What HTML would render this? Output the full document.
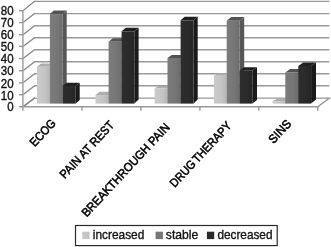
<!DOCTYPE html>
<html><head><meta charset="utf-8"><title>chart</title>
<style>html,body{margin:0;padding:0;background:#fff}svg text{font-family:"Liberation Sans",sans-serif}</style></head>
<body>
<svg width="331" height="247" viewBox="0 0 331 247" style="display:block">
<defs><linearGradient id="gi" x1="0" x2="1" y1="0" y2="0"><stop offset="0" stop-color="#cbcbcb"/><stop offset="0.6" stop-color="#c4c4c4"/><stop offset="1" stop-color="#b6b6b6"/></linearGradient><linearGradient id="gs" x1="0" x2="1" y1="0" y2="0"><stop offset="0" stop-color="#7c7c7c"/><stop offset="0.6" stop-color="#767676"/><stop offset="1" stop-color="#6c6c6c"/></linearGradient><linearGradient id="gd" x1="0" x2="1" y1="0" y2="0"><stop offset="0" stop-color="#2d2d2d"/><stop offset="0.6" stop-color="#2a2a2a"/><stop offset="1" stop-color="#252525"/></linearGradient></defs>
<rect width="331" height="247" fill="#fff"/>
<line x1="34.5" y1="85.8" x2="329.3" y2="85.8" stroke="#999" stroke-width="1.4"/>
<line x1="23.0" y1="94.7" x2="34.9" y2="85.5" stroke="#868686" stroke-width="1.3"/>
<line x1="34.5" y1="73.7" x2="329.3" y2="73.7" stroke="#999" stroke-width="1.4"/>
<line x1="23.0" y1="82.8" x2="34.9" y2="73.4" stroke="#868686" stroke-width="1.3"/>
<line x1="34.5" y1="61.8" x2="329.3" y2="61.8" stroke="#999" stroke-width="1.4"/>
<line x1="23.0" y1="70.7" x2="34.9" y2="61.5" stroke="#868686" stroke-width="1.3"/>
<line x1="34.5" y1="49.7" x2="329.3" y2="49.7" stroke="#999" stroke-width="1.4"/>
<line x1="23.0" y1="58.5" x2="34.9" y2="49.4" stroke="#868686" stroke-width="1.3"/>
<line x1="34.5" y1="37.7" x2="329.3" y2="37.7" stroke="#999" stroke-width="1.4"/>
<line x1="23.0" y1="46.4" x2="34.9" y2="37.4" stroke="#868686" stroke-width="1.3"/>
<line x1="34.5" y1="25.8" x2="329.3" y2="25.8" stroke="#999" stroke-width="1.4"/>
<line x1="23.0" y1="34.7" x2="34.9" y2="25.5" stroke="#868686" stroke-width="1.3"/>
<line x1="34.5" y1="13.6" x2="329.3" y2="13.6" stroke="#999" stroke-width="1.4"/>
<line x1="23.0" y1="22.6" x2="34.9" y2="13.3" stroke="#868686" stroke-width="1.3"/>
<line x1="34.5" y1="1.4" x2="329.3" y2="1.4" stroke="#999" stroke-width="1.4"/>
<line x1="23.0" y1="10.7" x2="34.9" y2="1.1" stroke="#868686" stroke-width="1.3"/>
<polygon points="23.0,106.7 34.5,98.1 329.3,98.1 317.8,106.7" fill="#fff" stroke="#999" stroke-width="1.4"/>
<line x1="23.0" y1="106.7" x2="34.9" y2="97.8" stroke="#868686" stroke-width="1.3"/>
<line x1="22.9" y1="10.2" x2="22.9" y2="110.8" stroke="#a6a6a6" stroke-width="1.6"/>
<line x1="19" y1="106.7" x2="23.0" y2="106.7" stroke="#999" stroke-width="1.4"/>
<line x1="19" y1="94.7" x2="23.0" y2="94.7" stroke="#999" stroke-width="1.4"/>
<line x1="19" y1="82.8" x2="23.0" y2="82.8" stroke="#999" stroke-width="1.4"/>
<line x1="19" y1="70.7" x2="23.0" y2="70.7" stroke="#999" stroke-width="1.4"/>
<line x1="19" y1="58.5" x2="23.0" y2="58.5" stroke="#999" stroke-width="1.4"/>
<line x1="19" y1="46.4" x2="23.0" y2="46.4" stroke="#999" stroke-width="1.4"/>
<line x1="19" y1="34.7" x2="23.0" y2="34.7" stroke="#999" stroke-width="1.4"/>
<line x1="19" y1="22.6" x2="23.0" y2="22.6" stroke="#999" stroke-width="1.4"/>
<line x1="19" y1="10.7" x2="23.0" y2="10.7" stroke="#999" stroke-width="1.4"/>
<line x1="82.0" y1="106.7" x2="82.0" y2="110.8" stroke="#999" stroke-width="1.4"/>
<line x1="140.9" y1="106.7" x2="140.9" y2="110.8" stroke="#999" stroke-width="1.4"/>
<line x1="199.9" y1="106.7" x2="199.9" y2="110.8" stroke="#999" stroke-width="1.4"/>
<line x1="258.8" y1="106.7" x2="258.8" y2="110.8" stroke="#999" stroke-width="1.4"/>
<line x1="317.8" y1="106.7" x2="317.8" y2="110.8" stroke="#999" stroke-width="1.4"/>
<polygon points="49.9,66.7 53.9,63.6 53.9,100.1 49.9,103.6" fill="#9a9a9a"/>
<polygon points="37.0,66.7 41.0,63.6 53.9,63.6 49.9,66.7" fill="#adadad"/>
<rect x="37.0" y="66.7" width="12.9" height="36.9" fill="url(#gi)"/>
<polygon points="62.7,14.1 66.7,10.6 66.7,99.7 62.7,103.6" fill="#575757"/>
<polygon points="49.9,14.1 53.9,10.6 66.7,10.6 62.7,14.1" fill="#535353"/>
<rect x="49.9" y="14.1" width="12.8" height="89.5" fill="url(#gs)"/>
<polygon points="75.7,86.0 79.7,82.7 79.7,99.9 75.7,103.6" fill="#1a1a1a"/>
<polygon points="62.7,86.0 66.7,82.7 79.7,82.7 75.7,86.0" fill="#202020"/>
<rect x="62.7" y="86.0" width="13.0" height="17.6" fill="url(#gd)"/>
<polygon points="108.6,95.0 112.8,91.7 112.8,99.9 108.6,103.6" fill="#9a9a9a"/>
<polygon points="95.5,95.0 99.7,91.7 112.8,91.7 108.6,95.0" fill="#adadad"/>
<rect x="95.5" y="95.0" width="13.1" height="8.6" fill="url(#gi)"/>
<polygon points="121.6,41.7 125.8,38.3 125.8,99.8 121.6,103.6" fill="#575757"/>
<polygon points="108.6,41.7 112.8,38.3 125.8,38.3 121.6,41.7" fill="#535353"/>
<rect x="108.6" y="41.7" width="13.0" height="61.9" fill="url(#gs)"/>
<polygon points="134.4,31.3 138.6,27.7 138.6,99.6 134.4,103.6" fill="#1a1a1a"/>
<polygon points="121.6,31.3 125.8,27.7 138.6,27.7 134.4,31.3" fill="#202020"/>
<rect x="121.6" y="31.3" width="12.8" height="72.3" fill="url(#gd)"/>
<polygon points="167.5,88.5 171.6,85.9 171.6,100.6 167.5,103.6" fill="#9a9a9a"/>
<polygon points="154.6,88.5 158.7,85.9 171.6,85.9 167.5,88.5" fill="#adadad"/>
<rect x="154.6" y="88.5" width="12.9" height="15.1" fill="url(#gi)"/>
<polygon points="180.6,58.0 184.7,55.0 184.7,100.2 180.6,103.6" fill="#575757"/>
<polygon points="167.5,58.0 171.6,55.0 184.7,55.0 180.6,58.0" fill="#535353"/>
<rect x="167.5" y="58.0" width="13.1" height="45.6" fill="url(#gs)"/>
<polygon points="193.6,20.3 197.7,16.7 197.7,99.6 193.6,103.6" fill="#1a1a1a"/>
<polygon points="180.6,20.3 184.7,16.7 197.7,16.7 193.6,20.3" fill="#202020"/>
<rect x="180.6" y="20.3" width="13.0" height="83.3" fill="url(#gd)"/>
<polygon points="226.7,75.8 231.3,73.2 231.3,100.6 226.7,103.6" fill="#9a9a9a"/>
<polygon points="213.9,75.8 218.5,73.2 231.3,73.2 226.7,75.8" fill="#adadad"/>
<rect x="213.9" y="75.8" width="12.8" height="27.8" fill="url(#gi)"/>
<polygon points="239.6,20.8 244.2,17.0 244.2,99.4 239.6,103.6" fill="#575757"/>
<polygon points="226.7,20.8 231.3,17.0 244.2,17.0 239.6,20.8" fill="#535353"/>
<rect x="226.7" y="20.8" width="12.9" height="82.8" fill="url(#gs)"/>
<polygon points="252.4,70.4 257.0,67.2 257.0,100.0 252.4,103.6" fill="#1a1a1a"/>
<polygon points="239.6,70.4 244.2,67.2 257.0,67.2 252.4,70.4" fill="#202020"/>
<rect x="239.6" y="70.4" width="12.8" height="33.2" fill="url(#gd)"/>
<polygon points="285.3,101.2 290.2,98.4 290.2,100.4 285.3,103.6" fill="#9a9a9a"/>
<polygon points="272.6,101.2 277.5,98.4 290.2,98.4 285.3,101.2" fill="#adadad"/>
<rect x="272.6" y="101.2" width="12.7" height="2.4" fill="url(#gi)"/>
<polygon points="298.3,72.4 303.2,69.0 303.2,99.8 298.3,103.6" fill="#575757"/>
<polygon points="285.3,72.4 290.2,69.0 303.2,69.0 298.3,72.4" fill="#535353"/>
<rect x="285.3" y="72.4" width="13.0" height="31.2" fill="url(#gs)"/>
<polygon points="311.1,66.0 316.0,62.4 316.0,99.6 311.1,103.6" fill="#1a1a1a"/>
<polygon points="298.3,66.0 303.2,62.4 316.0,62.4 311.1,66.0" fill="#202020"/>
<rect x="298.3" y="66.0" width="12.8" height="37.6" fill="url(#gd)"/>
<text transform="translate(13.7,111.0) scale(0.93,1)" text-anchor="end" font-size="12.4" fill="#111" stroke="#111" stroke-width="0.35">0</text>
<text transform="translate(13.7,99.9) scale(0.93,1)" text-anchor="end" font-size="12.4" fill="#111" stroke="#111" stroke-width="0.35">10</text>
<text transform="translate(13.7,87.5) scale(0.93,1)" text-anchor="end" font-size="12.4" fill="#111" stroke="#111" stroke-width="0.35">20</text>
<text transform="translate(13.7,75.2) scale(0.93,1)" text-anchor="end" font-size="12.4" fill="#111" stroke="#111" stroke-width="0.35">30</text>
<text transform="translate(13.7,63.2) scale(0.93,1)" text-anchor="end" font-size="12.4" fill="#111" stroke="#111" stroke-width="0.35">40</text>
<text transform="translate(13.7,51.2) scale(0.93,1)" text-anchor="end" font-size="12.4" fill="#111" stroke="#111" stroke-width="0.35">50</text>
<text transform="translate(13.7,39.2) scale(0.93,1)" text-anchor="end" font-size="12.4" fill="#111" stroke="#111" stroke-width="0.35">60</text>
<text transform="translate(13.7,26.8) scale(0.93,1)" text-anchor="end" font-size="12.4" fill="#111" stroke="#111" stroke-width="0.35">70</text>
<text transform="translate(13.7,15.1) scale(0.93,1)" text-anchor="end" font-size="12.4" fill="#111" stroke="#111" stroke-width="0.35">80</text>
<text transform="translate(56.6,123.8) rotate(-47) scale(0.908,1)" text-anchor="end" font-size="12" word-spacing="0" fill="#000" stroke="#000" stroke-width="0.55">ECOG</text>
<text transform="translate(114.9,125.55) rotate(-47) scale(0.926,1)" text-anchor="end" font-size="12" word-spacing="0" fill="#000" stroke="#000" stroke-width="0.55">PAIN AT REST</text>
<text transform="translate(170.4,127.9) rotate(-47) scale(0.932,1)" text-anchor="end" font-size="12" word-spacing="0" fill="#000" stroke="#000" stroke-width="0.55">BREAKTHROUGH PAIN</text>
<text transform="translate(232.25,126.35) rotate(-47) scale(0.899,1)" text-anchor="end" font-size="12" word-spacing="-1.5" fill="#000" stroke="#000" stroke-width="0.55">DRUG THERAPY</text>
<text transform="translate(292.0,124.3) rotate(-47) scale(0.969,1)" text-anchor="end" font-size="12" word-spacing="0" fill="#000" stroke="#000" stroke-width="0.55">SINS</text>
<rect x="75.5" y="225.5" width="201.7" height="20.1" fill="#fff" stroke="#2a2a2a" stroke-width="1.2"/>
<rect x="82.3" y="231.7" width="7.3" height="7.4" fill="#c4c4c4"/>
<text transform="translate(92.75,238.9) scale(0.93,1)" font-size="12.8" fill="#111" stroke="#111" stroke-width="0.35">increased</text>
<rect x="155.6" y="231.7" width="7.3" height="7.4" fill="#767676"/>
<text transform="translate(165.8,238.9) scale(0.952,1)" font-size="12.8" fill="#111" stroke="#111" stroke-width="0.35">stable</text>
<rect x="206.9" y="231.7" width="7.3" height="7.4" fill="#2a2a2a"/>
<text transform="translate(217.4,238.9) scale(0.922,1)" font-size="12.8" fill="#111" stroke="#111" stroke-width="0.35">decreased</text>
</svg>
</body></html>
